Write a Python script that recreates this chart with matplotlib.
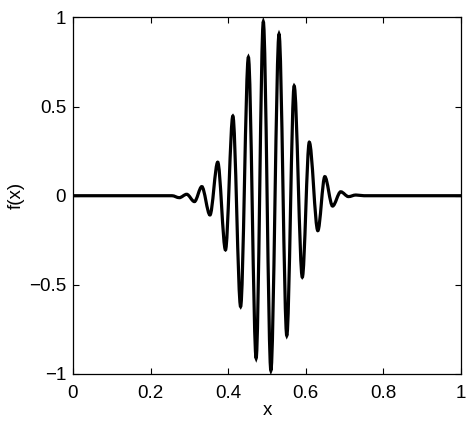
import matplotlib
matplotlib.use('Agg')
import matplotlib.pyplot as plt
from matplotlib.path import Path
from matplotlib.patches import PathPatch

plt.rcParams['font.family'] = ['Liberation Sans', 'DejaVu Sans']

# extrema of the wave packet (x, f(x))
X_EXT = [0.0, 0.255, 0.274, 0.293, 0.313, 0.332, 0.353, 0.373, 0.393,
         0.412, 0.432, 0.452, 0.472, 0.4905, 0.510, 0.531, 0.551, 0.570,
         0.591, 0.609, 0.631, 0.649, 0.669, 0.690, 0.710, 0.729, 0.75, 1.0]
Y_EXT = [0.0, 0.0, -0.011, 0.008, -0.033, 0.051, -0.108, 0.188, -0.304,
         0.447, -0.622, 0.777, -0.912, 0.976, -0.981, 0.907, -0.785, 0.616,
         -0.457, 0.300, -0.196, 0.107, -0.058, 0.022, -0.005, 0.004, 0.0, 0.0]

X_TICKS = [0, 0.2, 0.4, 0.6, 0.8, 1]
Y_TICKS = [-1, -0.5, 0, 0.5, 1]


def wave_path(xs, ys):
    '''Smooth path through the extrema, one cubic Bezier per half wave'''
    verts = [(xs[0], ys[0])]
    codes = [Path.MOVETO]
    for i in range(1, len(xs)):
        dx = xs[i] - xs[i - 1]
        verts += [(xs[i - 1] + dx / 3, ys[i - 1]),
                  (xs[i] - dx / 3, ys[i]),
                  (xs[i], ys[i])]
        codes += [Path.CURVE4] * 3
    return Path(verts, codes)


fig = plt.figure(figsize=(4.74, 4.24), dpi=100)
ax = fig.add_axes([0.154, 0.118, 0.8186, 0.8408])

ax.add_patch(PathPatch(wave_path(X_EXT, Y_EXT), fill=False,
                       edgecolor='black', linewidth=2.3, capstyle='round'))

ax.set_xlim(0, 1)
ax.set_ylim(-1, 1)
ax.set_xticks(X_TICKS)
ax.set_yticks(Y_TICKS)
ax.set_xticklabels(['%g' % t for t in X_TICKS])
ax.set_yticklabels(['%g' % t if t >= 0 else '\u2212%g' % -t for t in Y_TICKS])
ax.tick_params(direction='in', top=True, right=True, length=4,
               width=0.8, labelsize=13.5, pad=5)
ax.tick_params(axis='x', pad=8)
for s in ax.spines.values():
    s.set_linewidth(0.9)

ax.set_xlabel('x', fontsize=13.5, labelpad=0)
ax.set_ylabel('f(x)', fontsize=13.5, labelpad=3)

fig.savefig('out.png', dpi=100)
